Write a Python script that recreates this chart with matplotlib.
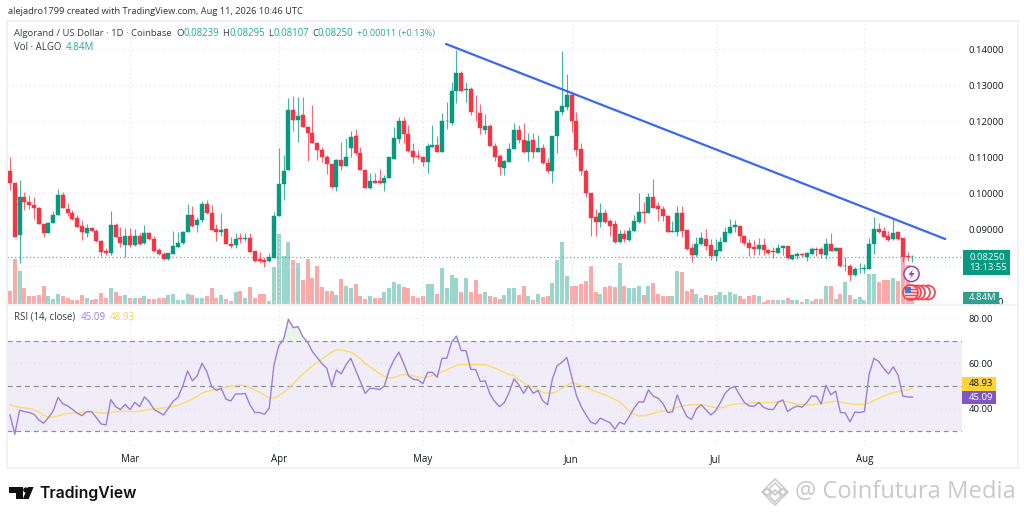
import numpy as np
import pandas as pd
import matplotlib
matplotlib.use("Agg")
import matplotlib.pyplot as plt
from matplotlib.patches import Rectangle, Circle, Polygon
from matplotlib.ticker import FormatStrFormatter
import matplotlib.dates as mdates

plt.rcParams['font.family'] = ['Open Sans', 'DejaVu Sans']

# --- DATA, prices in units of 0.0001 ---
dates = pd.date_range("2026-02-04", "2026-08-11", freq="D")

opens = [1062,1030,885,989,976,967,961,915,889,919,
         940,996,958,947,931,909,891,904,897,868,
         839,834,912,880,857,882,856,882,862,889,
         875,843,832,817,832,852,862,892,940,912,
         926,970,947,902,893,901,861,856,876,873,
         876,840,817,816,812,822,938,1025,1065,1232,
         1203,1217,1186,1169,1141,1121,1100,1083,1018,1093,
         1076,1126,1160,1112,1065,1015,1036,1034,1030,1044,
         1097,1152,1200,1165,1118,1104,1102,1088,1130,1134,
         1116,1200,1195,1285,1334,1287,1291,1227,1223,1176,
         1187,1132,1104,1072,1087,1124,1176,1149,1114,1149,
         1114,1126,1084,1062,1160,1225,1239,1273,1201,1123,
         1062,1002,936,921,945,923,914,865,888,871,
         895,922,950,945,991,964,956,938,892,893,
         946,898,849,829,860,873,856,826,841,866,
         891,906,911,883,862,851,847,858,843,841,
         836,848,854,819,826,832,824,833,847,846,
         829,860,841,848,798,800,773,790,790,789,
         860,902,895,882,873,893,876,826,823.9]

closes = [1028,879,989,975,967,960,914,889,917,940,
          996,959,947,930,907,894,904,897,868,838,
          834,912,880,863,882,857,882,860,891,873,
          841,832,819,834,853,863,893,940,910,926,
          970,947,900,893,900,861,855,874,874,876,
          838,813,813,809,824,938,1026,1062,1232,1203,
          1215,1186,1169,1141,1122,1100,1082,1018,1093,1076,
          1101,1158,1112,1065,1015,1036,1030,1029,1044,1102,
          1153,1200,1165,1118,1100,1102,1088,1132,1134,1116,
          1200,1202,1285,1334,1285,1291,1225,1225,1181,1187,
          1132,1100,1073,1090,1124,1176,1149,1114,1147,1116,
          1126,1084,1062,1160,1229,1244,1273,1201,1121,1062,
          1002,931,921,945,921,911,865,888,873,896,
          925,950,945,991,961,956,938,892,897,947,
          896,847,829,861,876,855,826,843,866,894,
          908,912,882,862,848,847,856,843,836,838,
          849,854,821,829,832,828,834,845,844,831,
          860,841,850,798,800,773,791,791,792,861,
          902,893,880,871,889,873,823,824,825]

highs = [1100,1030,1037,1003,996,991,963,915,922,951,
         1012,1005,973,954,940,926,915,907,901,871,
         848,952,917,906,904,904,902,889,912,894,
         882,850,838,836,897,894,897,971,966,935,
         980,982,968,915,945,903,880,889,889,891,
         891,840,838,825,836,949,1125,1107,1266,1271,
         1269,1269,1187,1246,1141,1130,1107,1083,1095,1144,
         1153,1174,1178,1128,1065,1058,1056,1067,1052,1102,
         1184,1212,1212,1190,1139,1121,1104,1139,1189,1160,
         1223,1255,1311,1399,1341,1309,1295,1273,1248,1221,
         1192,1139,1110,1093,1139,1195,1190,1195,1167,1167,
         1162,1137,1098,1160,1229,1395,1332,1280,1227,1141,
         1069,1002,958,973,958,928,926,899,899,908,
         941,1000,977,1000,1039,975,964,941,923,964,
         964,898,861,880,894,901,873,873,880,908,
         928,926,911,885,873,870,876,876,847,852,
         860,858,854,829,838,836,838,852,852,852,
         876,889,852,848,824,803,795,807,805,876,
         935,917,908,895,930,895,876,838,829.5]

lows = [1010,879,808,955,957,929,914,878,889,919,
        940,959,937,926,907,871,880,897,866,826,
        829,829,878,852,823,852,854,857,860,871,
        838,829,814,815,832,849,860,892,908,893,
        922,944,899,869,882,859,848,848,862,869,
        838,810,806,795,810,822,938,982,1065,1174,
        1144,1186,1091,1141,1093,1088,1055,1014,1008,1065,
        1076,1102,1107,1065,1015,1012,1028,1026,1008,1044,
        1097,1139,1139,1116,1084,1097,1075,1058,1130,1116,
        1116,1180,1190,1252,1285,1255,1218,1200,1165,1165,
        1132,1091,1051,1051,1087,1124,1139,1112,1091,1098,
        1114,1082,1058,1030,1112,1218,1232,1172,1104,1051,
        991,882,882,908,919,882,862,862,866,869,
        893,919,919,945,959,923,923,892,892,883,
        880,843,811,824,857,843,815,813,841,866,
        888,894,866,857,827,830,830,830,832,820,
        834,829,819,815,817,824,813,833,827,820,
        817,841,841,796,786,758,771,778,778,789,
        832,889,878,868,871,871,811,813,810.7]

# volume in millions ALGO
volumes = [10,34,25,12,6.5,6.5,7,14,6,4,
           8,6.5,5,3.5,3.5,7,5,3,4,8.5,
           5,12.5,9,6,7,5,5,5,6.5,4,
           4,4.5,4.5,7,8,3.5,3.5,8,7,5,
           5,6,12,5,7,4,2.5,9,10,5,
           13,5,8,7.5,2.5,28,53,36,47,33,
           31,18,34,20,29,13,10,10,7,19,
           14,12.5,15,6,4,6,5,5,9,12.5,
           16.5,15,13,12,6,5,6.5,15,15.5,8,
           27.5,12,22,20,9,20,9.5,18.5,7.5,9.5,
           6.5,5.5,4,7,12,12.5,7,14,6,3,
           8,5.5,6,16,33,47,21,14,13.5,15,
           17.5,29,9.5,8,13,14,13,31,14,12,
           12.5,13.5,7,14,16,8,6,6.5,6.5,25,
           24,10,11.5,8,5,7,6,7,9,7,
           9.5,8,6,4,6,7,6,2,3,3.5,
           3.5,3.5,5,3.5,3,2,4,2.5,4,4,
           14,13.5,4,8,17,7,4,5.5,3,23,
           23,17,18,18,20,17.5,35,29.5,4.84]

rsi = [37.2,28.7,39.3,38.7,38.3,37.5,35,33.5,36,39,
       45,42.2,41.2,39.7,38,36.9,38.7,38.6,36,33.2,
       32.8,44,40.9,39.6,41.9,39.6,42.8,40.9,45.2,43.1,
       39.7,38.4,37.2,40.2,43.4,45,50.1,56.7,52.3,54.6,
       60.1,56.4,49.8,48.1,49,44.2,43.4,46.5,46.5,46.7,
       41.7,38.3,38.3,37.5,40.2,59.4,67.9,70.7,79.6,75.9,
       76.3,71.9,69.4,65.3,62.6,59.9,57.9,50.1,57.1,55.4,
       59.4,62.3,57.1,52,46.8,49,48.9,48.4,50.1,57.1,
       61.6,65,60.1,54.6,53,52.7,51.1,56,56.1,53.9,
       62.3,62.3,69.4,72.2,65.7,65.7,57.4,57.3,52,52.3,
       46.4,43.1,40.9,42.7,47.3,53.2,50.5,46.8,50.1,46.8,
       48,43.4,41.7,53.2,59.1,60.5,62.7,54.2,45.8,40.9,
       37.2,34,33.2,35.8,34.7,33.8,30.9,34,33.1,36.5,
       40.2,43,42.9,48.3,45.6,44.6,42.4,38.3,38.6,46.1,
       40.9,36.5,35.2,39.9,41.7,39.4,37.2,39,42.7,46.8,
       49,49.8,46.1,42.7,41.2,41.1,42.7,40.6,39.7,39.6,
       42.8,43.9,38.7,40.2,41.2,40.6,42.7,45.6,45.5,42.1,
       50.4,46.1,47.8,38.3,38.1,34.1,38.4,38.3,38.7,55.4,
       62.3,60.8,57.9,55.4,58.5,54.9,45.6,45.2,45.09]

rsi_ma = [41.7,41,40.6,40.3,40,39.5,38.5,37,36.3,36.3,
          36.8,37.4,37.9,38,38.1,38.4,38.7,38.6,38.3,38,
          38,38.3,38.7,38.9,38.8,38.7,38.7,38.8,39.2,39.7,
          39.9,40.1,40.3,40.5,41,41.4,42.3,43.3,44.3,45.5,
          46.8,47.7,48,48.6,49,49.5,49.8,50.2,50.4,50.3,
          49.3,48.3,47.2,46,44.8,44.6,45.8,47.2,49,51,
          53.3,55.3,57.2,59,60.5,62,63.5,65,66,66,
          65.5,65,63.8,62,60,58.5,57,55.5,54.2,53.5,
          53.7,54.5,55.1,55,54.6,54,53.7,54,54.6,55.4,
          56.3,57.2,58.2,59.2,59.6,59.6,59.6,59.6,59.5,59.4,
          58.8,58,57,56,55,54.8,53,51.5,50.3,49.4,
          48.3,47.2,46.8,46.9,47.7,49,50.2,51.5,51,50.2,
          49.4,48.5,47.6,46.8,46,45.2,44.1,43,41,39.2,
          37.5,36.8,36.8,37.3,37.9,38.5,39,39.1,39.8,40.6,
          41.1,41.4,41.7,41.8,41.8,41.4,40.9,40.4,40.4,40.8,
          41.5,42,42.2,42.1,42.3,42.6,42.6,42.7,42.7,42.7,
          43,43.3,43,42.5,42,41.7,41.6,41.7,42,42.2,
          42.6,43,43.3,43,42.5,42.2,42,41.9,41.8,42.5,
          43.6,44.6,45.6,46.4,47,47.6,48,48.4,48.93]

# 0.08 sits fully behind the last-price badge in the reference, so it is not listed
price_ticks = [0.07, 0.09, 0.10, 0.11, 0.12, 0.13, 0.14]
grid_prices = [0.07, 0.08, 0.09, 0.10, 0.11, 0.12, 0.13, 0.14]
rsi_ticks = [40, 60, 80]
rsi_levels = [30, 50, 70]
last_price = 0.0825
trend_dates = pd.to_datetime(["2026-05-05 20:00", "2026-08-17 20:00"])
trend_prices = [0.14153, 0.08736]

# --- COLOURS ---
VERDE = '#089981'
ROSSO = '#f23645'
VERDE_VOL = '#9bd6cd'
ROSSO_VOL = '#f9aaa9'
TEAL = '#22ab94'
VIOLA = '#7e57c2'
GIALLO = '#fdd835'
TESTO = '#131722'
GRIGLIA = '#dfe2ea'

W, H = 1024, 517
fig = plt.figure(figsize=(W / 100, H / 100), dpi=100, facecolor='white')


def assi_px(left, top, right, bottom):
    return fig.add_axes([left / W, 1 - bottom / H, (right - left) / W, (bottom - top) / H])


o = np.array(opens) / 10000
c = np.array(closes) / 10000
hi = np.array(highs) / 10000
lo = np.array(lows) / 10000
colori = [VERDE if b >= a else ROSSO for a, b in zip(o, c)]
colori_vol = [VERDE_VOL if b >= a else ROSSO_VOL for a, b in zip(o, c)]

x_min = dates[0] - pd.Timedelta(days=0.625)
x_max = dates[0] + pd.Timedelta(days=198.33)

# --- PRICE PANE ---
ax = assi_px(7, 20, 962, 305)
ax_vol = ax.twinx()
ax.set_zorder(2)
ax_vol.set_zorder(1)
ax.patch.set_visible(False)

ax_vol.bar(dates, volumes, width=0.85, color=colori_vol, linewidth=0)
ax_vol.set_ylim(-0.5, 213.2)
ax_vol.axis('off')

for livello in grid_prices:
    ax.axhline(livello, color=GRIGLIA, lw=0.8, ls=(0, (1, 3)), zorder=0)
ax.vlines(dates, lo, hi, colors=colori, linewidth=0.8, alpha=0.75, zorder=3)
ax.bar(dates, np.abs(c - o), bottom=np.minimum(o, c), width=0.8, color=colori,
       edgecolor=colori, linewidth=0.3, zorder=4)
ax.plot(trend_dates, trend_prices, color='#3a68f0', lw=1.6, zorder=5, solid_capstyle='round')
ax.axhline(last_price, color=VERDE, lw=0.9, ls=(0, (1, 2)), alpha=0.7, zorder=2)

ax.set_xlim(x_min, x_max)
ax.set_ylim(0.06903, 0.14819)
ax.yaxis.tick_right()
ax.set_yticks(price_ticks)
ax.yaxis.set_major_formatter(FormatStrFormatter('%.5f'))
ax.tick_params(axis='y', length=0, pad=5, labelsize=6.8, labelcolor=TESTO)
ax.tick_params(axis='x', length=0, labelbottom=False)
ax.xaxis.set_major_locator(mdates.MonthLocator())
ax.grid(True, axis='x', color=GRIGLIA, lw=0.8, ls=(0, (1, 3)), zorder=0)
for s in ax.spines.values():
    s.set_visible(False)

# --- RSI PANE ---
ax_r = assi_px(7, 305, 962, 445)
ax_r.axhspan(rsi_levels[0], rsi_levels[-1], color=VIOLA, alpha=0.1, lw=0, zorder=1)
for livello in rsi_levels:
    ax_r.axhline(livello, color='#8f919a', lw=0.9, ls=(0, (4, 3)), zorder=2)
ax_r.fill_between(dates, 70, rsi, where=np.array(rsi) > 70, color='#4caf50', alpha=0.12,
                  lw=0, interpolate=True, zorder=2)
ax_r.plot(dates, rsi_ma, color='#fbdc6a', lw=1.0, zorder=3)
ax_r.plot(dates, rsi, color='#9a7fd4', lw=1.0, zorder=4)

ax_r.set_xlim(x_min, x_max)
ax_r.set_ylim(23.9, 85.9)
ax_r.yaxis.tick_right()
ax_r.set_yticks(rsi_ticks)
ax_r.yaxis.set_major_formatter(FormatStrFormatter('%.2f'))
ax_r.tick_params(axis='y', length=0, pad=5, labelsize=6.8, labelcolor=TESTO)
ax_r.xaxis.set_major_locator(mdates.MonthLocator())
ax_r.xaxis.set_major_formatter(mdates.DateFormatter('%b'))
ax_r.tick_params(axis='x', length=0, pad=6.5, labelsize=7, labelcolor=TESTO)
ax_r.grid(True, color=GRIGLIA, lw=0.8, ls=(0, (1, 3)), zorder=0)
for s in ax_r.spines.values():
    s.set_visible(False)

# --- OVERLAY IN PIXEL COORDINATES (frame, texts, badges, logos) ---
ov = fig.add_axes([0, 0, 1, 1])
ov.set_xlim(0, W)
ov.set_ylim(H, 0)
ov.axis('off')
ov.patch.set_visible(False)
ov.set_zorder(10)

ov.add_patch(Rectangle((7, 20.5), 1011, 447.5, fill=False, ec='#eef0f5', lw=1.3))
ov.plot([7, 1018], [305, 305], color='#eef0f5', lw=1.3)


def testo(x, y, s, color=TESTO, size=6.8, **kw):
    ov.text(x, y, s, color=color, fontsize=size, va='center', ha=kw.pop('ha', 'left'), **kw)


testo(8, 12, "alejadro1799 created with TradingView.com, Aug 11, 2026 10:46 UTC", color='#333333', size=6.7)
testo(14, 33.5, "Algorand / US Dollar · 1D · Coinbase", color='#3a3d47', size=6.8)
for xl, lettera, xv, valore in [(176, "O", 183, "0.08239"), (222, "H", 229, "0.08295"),
                                (268, "L", 273, "0.08107"), (312, "C", 318, "0.08250")]:
    testo(xl, 33.5, lettera, color='#3a3d47', size=6.8)
    testo(xv, 33.5, valore, color=TEAL, size=6.9)
testo(357, 33.5, "+0.00011 (+0.13%)", color=TEAL, size=6.6)
testo(14, 47, "Vol · ALGO", color='#3a3d47', size=6.9)
testo(66, 47, "4.84M", color=TEAL, size=7)
testo(14, 317, "RSI (14, close)", color='#3a3d47', size=6.9)
testo(81, 317, "45.09", color='#9a7fd4', size=7)
testo(110, 317, "48.93", color='#f6d45a', size=7)


def badge(x0, y0, x1, y1, colore):
    ov.add_patch(Rectangle((x0, y0), x1 - x0, y1 - y0, fc=colore, ec='none', zorder=5))


badge(963, 250, 1010, 274.5, VERDE)
testo(969, 257, "0.08250", color='white', size=6.8, zorder=6)
testo(969, 268, "13:13:55", color='white', size=6.8, zorder=6)
badge(963, 292, 999, 304, '#2f9e8c')
testo(969, 298, "4.84M", color='white', size=6.8, zorder=6)
badge(962, 377, 996, 391, '#fdd23a')
testo(969, 384, "48.93", color=TESTO, size=6.8, zorder=6)
badge(962, 391, 996, 404, VIOLA)
testo(969, 397.5, "45.09", color='white', size=6.8, zorder=6)

# lightning badge
ov.add_patch(Circle((911.5, 274), 7.6, fc='white', ec='#9c3fc4', lw=1.1, zorder=6))
ov.add_patch(Polygon([(913, 269), (908.5, 275), (911.3, 275), (910, 279), (914.5, 273), (911.7, 273)],
                     fc='#9c3fc4', ec='none', zorder=7))

# economic events flags
for xf in [928, 923, 918, 914]:
    ov.add_patch(Circle((xf, 292.5), 7, fc='white', ec='#ef4a54', lw=1.3, zorder=6))
ov.add_patch(Circle((910.5, 292.5), 7.5, fc='#fbe3e4', ec='#ef4a54', lw=1.3, zorder=7))
for ys in [289, 292, 295, 298]:
    ov.plot([904.5, 917], [ys, ys], color='#ef4a54', lw=1.0, zorder=8)
ov.add_patch(Rectangle((904.5, 287), 6, 5.5, fc='#4a78c8', ec='none', zorder=9))

# TradingView logo
ov.add_patch(Polygon([(9.3, 487), (22.7, 487), (22.7, 499), (16, 499), (16, 493), (9.3, 493)], fc='#111111', ec='none'))
ov.add_patch(Circle((25.8, 490), 2.6, fc='#111111', ec='none'))
ov.add_patch(Polygon([(28, 487), (33.6, 487), (28.6, 499), (22.8, 499)], fc='#111111', ec='none'))
ov.text(39.5, 493, "TradingView", color='#111111', fontsize=11.4, fontweight='semibold',
        family=['Inter', 'DejaVu Sans'], va='center', ha='left')

# Watermark
GRIGIO_WM = '#c9c9c9'
for cx, cy, r in [(775, 492, 13), (775, 489, 6), (775, 496, 6), (767, 492, 3.5), (783, 492, 3.5)]:
    ov.add_patch(Polygon([(cx, cy - r), (cx + r, cy), (cx, cy + r), (cx - r, cy)], fc='none', ec=GRIGIO_WM, lw=1.1))
ov.text(795, 492.5, "@ Coinfutura Media", color=GRIGIO_WM, fontsize=17.1, family=['Open Sans', 'DejaVu Sans'],
        va='center', ha='left')

fig.savefig("out.png", dpi=100, facecolor='white')
